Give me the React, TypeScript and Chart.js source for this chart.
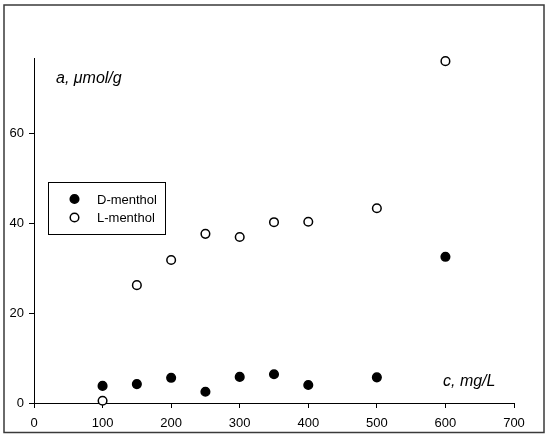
import React, { useEffect, useRef } from "react";
import { Chart, registerables } from "chart.js";

Chart.register(...registerables);

const concentrations = [100, 150, 200, 250, 300, 350, 400, 500, 600];
const dMenthol = [3.8, 4.2, 5.6, 2.5, 5.8, 6.4, 4.0, 5.7, 32.5];
const lMenthol = [0.5, 26.2, 31.8, 37.6, 36.9, 40.2, 40.3, 43.3, 76.0];
const seriesNames = ["D-menthol", "L-menthol"];
const yTickValues = [0, 20, 40, 60];
const xAxisTitle = "c, mg/L";
const yAxisTitle = "a, \u03bcmol/g";

const FONT = "'Liberation Sans', Arial, sans-serif";

const decorPlugin = {
  id: "decor",
  beforeDraw(chart: any) {
    const ctx = chart.ctx;
    ctx.save();
    ctx.fillStyle = "#ffffff";
    ctx.fillRect(0, 0, chart.width, chart.height);
    ctx.restore();
  },
  afterDraw(chart: any) {
    const ctx = chart.ctx;
    ctx.save();
    // outer frame
    ctx.strokeStyle = "#3a3a3a";
    ctx.lineWidth = 1.5;
    ctx.strokeRect(4, 5, 540, 427.5);

    // axis titles
    ctx.fillStyle = "#000";
    ctx.font = `italic 16px ${FONT}`;
    ctx.textBaseline = "middle";
    ctx.textAlign = "left";
    ctx.fillText(yAxisTitle, 56, 79);
    ctx.fillText(xAxisTitle, 443, 382);

    // legend
    ctx.strokeStyle = "#000";
    ctx.lineWidth = 1;
    ctx.strokeRect(48.5, 182.5, 117, 52);
    ctx.font = `13px ${FONT}`;
    chart.data.datasets.forEach((ds: any, i: number) => {
      const y = 199 + i * 18.5;
      ctx.beginPath();
      ctx.arc(74.5, y, 4.3, 0, Math.PI * 2);
      ctx.fillStyle = ds.pointBackgroundColor;
      ctx.fill();
      ctx.lineWidth = 1.5;
      ctx.strokeStyle = "#000";
      ctx.stroke();
      ctx.fillStyle = "#000";
      ctx.fillText(seriesNames[i], 97, y + 1);
    });
    ctx.restore();
  },
};

export default function App() {
  const ref = useRef<HTMLCanvasElement | null>(null);
  useEffect(() => {
    document.body.style.margin = "0";
    if (!ref.current) return;
    const chart = new Chart(ref.current, {
      type: "scatter",
      data: {
        datasets: [
          {
            label: seriesNames[0],
            data: concentrations.map((x, i) => ({ x, y: dMenthol[i] })),
            pointRadius: 4.3,
            pointBackgroundColor: "#000000",
            pointBorderColor: "#000000",
            pointBorderWidth: 1.5,
            clip: false,
          },
          {
            label: seriesNames[1],
            data: concentrations.map((x, i) => ({ x, y: lMenthol[i] })),
            pointRadius: 4.3,
            pointBackgroundColor: "#ffffff",
            pointBorderColor: "#000000",
            pointBorderWidth: 1.5,
            clip: false,
          },
        ],
      },
      options: {
        responsive: false,
        animation: false,
        layout: { padding: { top: 58, right: 36, left: 0, bottom: 0 } },
        plugins: {
          legend: { display: false },
          tooltip: { enabled: false },
        },
        scales: {
          x: {
            type: "linear",
            min: 0,
            max: 700,
            ticks: {
              stepSize: 100,
              color: "#000",
              font: { family: FONT, size: 13 },
              padding: 8,
              maxRotation: 0,
            },
            grid: {
              drawOnChartArea: false,
              drawTicks: true,
              tickLength: 5,
              tickColor: "#000",
              tickWidth: 1,
            },
            border: { display: true, color: "#000", width: 1 },
            afterFit(scale: any) {
              scale.height = 35;
            },
          },
          y: {
            type: "linear",
            min: 0,
            max: 76.7,
            afterBuildTicks(scale: any) {
              scale.ticks = yTickValues.map((v) => ({ value: v }));
            },
            ticks: {
              color: "#000",
              font: { family: FONT, size: 13 },
              padding: 5,
            },
            grid: {
              drawOnChartArea: false,
              drawTicks: true,
              tickLength: 5,
              tickColor: "#000",
              tickWidth: 1,
            },
            border: { display: true, color: "#000", width: 1 },
            afterFit(scale: any) {
              scale.width = 34;
            },
          },
        },
      },
      plugins: [decorPlugin],
    } as any);
    return () => chart.destroy();
  }, []);
  return (
    <div style={{ position: "absolute", left: 0, top: 0 }}>
      <canvas ref={ref} width={550} height={438} />
    </div>
  );
}
